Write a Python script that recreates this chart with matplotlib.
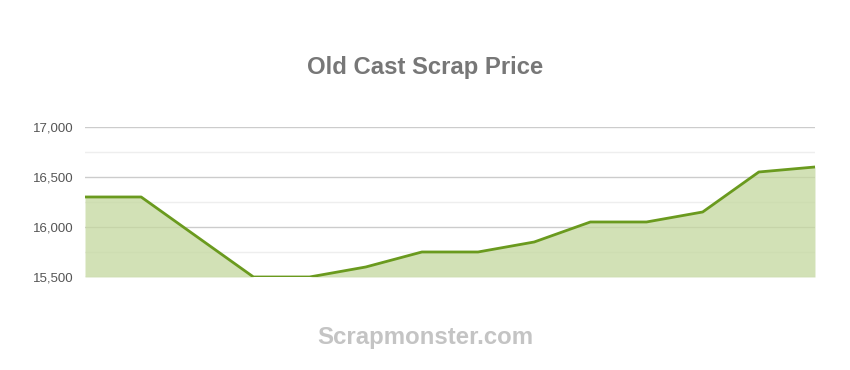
import matplotlib.pyplot as plt
from matplotlib.ticker import FuncFormatter, MultipleLocator

plt.rcParams['font.family'] = ['Liberation Sans', 'DejaVu Sans']

# price points (14 periods, no x labels on the chart)
periods = list(range(14))
price = [16300, 16300, 15900, 15500, 15500, 15600, 15750,
         15750, 15850, 16050, 16050, 16150, 16550, 16600]

fig = plt.figure(figsize=(8.5, 3.7), dpi=100)
ax = fig.add_axes([0.1, 0.2514, 0.8588, 0.4054])

ax.fill_between(periods, price, 15500, color='#c4d89e', alpha=0.75, lw=0, zorder=2)
ax.plot(periods, price, color='#6a9a1e', lw=2, zorder=3)

ax.set_xlim(0, 13)
ax.set_ylim(15500, 17000)
ax.yaxis.set_major_locator(MultipleLocator(500))
ax.yaxis.set_minor_locator(MultipleLocator(250))
ax.yaxis.set_major_formatter(FuncFormatter(lambda v, p: f'{int(v):,}'))
ax.set_axisbelow(True)
ax.grid(which='major', axis='y', color='#cccccc', lw=1)
ax.grid(which='minor', axis='y', color='#eeeeee', lw=1)
for s in ax.spines.values():
    s.set_visible(False)
ax.tick_params(axis='y', which='both', length=0, labelsize=9.5,
               labelcolor='#555555', pad=8.5)
ax.set_xticks([])

fig.text(0.5, 0.818, 'Old Cast Scrap Price', ha='center', va='center',
         fontsize=17.2, fontweight='bold', color='#777777')
fig.text(0.5, 0.087, 'Scrapmonster.com', ha='center', va='center',
         fontsize=17.3, fontweight='bold', color='#c4c4c4')

fig.savefig('out.png', dpi=100)
